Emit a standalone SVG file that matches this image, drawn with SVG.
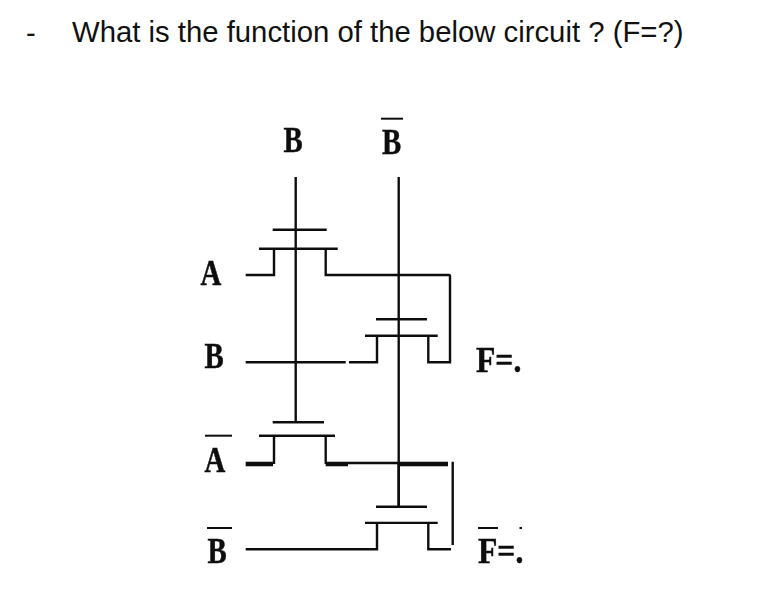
<svg xmlns="http://www.w3.org/2000/svg" width="778" height="598" viewBox="0 0 778 598">
<defs>
<style>
.h{font-family:"Liberation Sans",Arial,sans-serif;font-size:29.3px;fill:#111}
.l{font-family:"Liberation Serif","Times New Roman",serif;font-weight:bold;font-size:36px;fill:#111;stroke:#111;stroke-width:.5}
.w{fill:none;stroke:#111;stroke-width:2.4}
.t{fill:none;stroke:#111;stroke-width:4.500}
.o{fill:none;stroke:#111;stroke-width:2}
</style>
<filter id="b" x="-5%" y="-5%" width="110%" height="110%"><feGaussianBlur stdDeviation="0.5"/></filter>
</defs>
<rect width="778" height="598" fill="#fff"/>
<g id="title">
<text class="h" x="26" y="43">-</text>
<text class="h" x="72" y="42">What is the function of the below circuit ? (F=?)</text>
</g>
<g id="connectors" filter="url(#b)">
<path class="w" d="M295.700 177V422.300M398.700 177V506.700"/>
<path class="w" d="M245.700 275H274V248.700M325.700 248.700V275H449Q450 275 450 276V362.300H428.300V335.700"/>
<path class="w" d="M245.700 362.300H345.700M349 362.300H377V335.700"/>
<path class="w" d="M274 435.700V464M325.700 435.700V464M348 463H398"/>
<path class="t" d="M245.700 464H273M325.700 464H348M398.700 464H448"/>
<path class="w" d="M452.700 461.700V545M398.700 464V506.700"/>
<path class="w" d="M245.700 549.300H377V523M428.300 523V549.300H451"/>
</g>
<g id="t1" filter="url(#b)"><path class="w" d="M272.700 229.700H326.700M259 248.700H337.700"/></g>
<g id="t2" filter="url(#b)"><path class="w" d="M376 319.300H427M365 335.700H437.700"/></g>
<g id="t3" filter="url(#b)"><path class="w" d="M272.700 422.300H324M259 435.700H335"/></g>
<g id="t4" filter="url(#b)"><path class="w" d="M376 506.700H427M365 523H437.700"/></g>
<g id="labels" filter="url(#b)">
<text class="l" transform="translate(283.500 151.500) scale(.8 1)">B</text>
<text class="l" transform="translate(382 153.500) scale(.8 1)">B</text>
<path class="o" d="M381 118.700H403"/>
<text class="l" transform="translate(200.500 284.500) scale(.8 1)">A</text>
<text class="l" transform="translate(204.500 368) scale(.8 1)">B</text>
<text class="l" transform="translate(476 372) scale(.88 1)">F=.</text>
<text class="l" transform="translate(204.500 471.500) scale(.8 1)">A</text>
<path class="o" d="M205 435.700H232"/>
<text class="l" transform="translate(207.500 563) scale(.8 1)">B</text>
<path class="o" d="M207 528H232"/>
<text class="l" transform="translate(478 563) scale(.88 1)">F=.</text>
<path class="o" d="M478 528H498M519.500 528H522"/>
</g>
</svg>
